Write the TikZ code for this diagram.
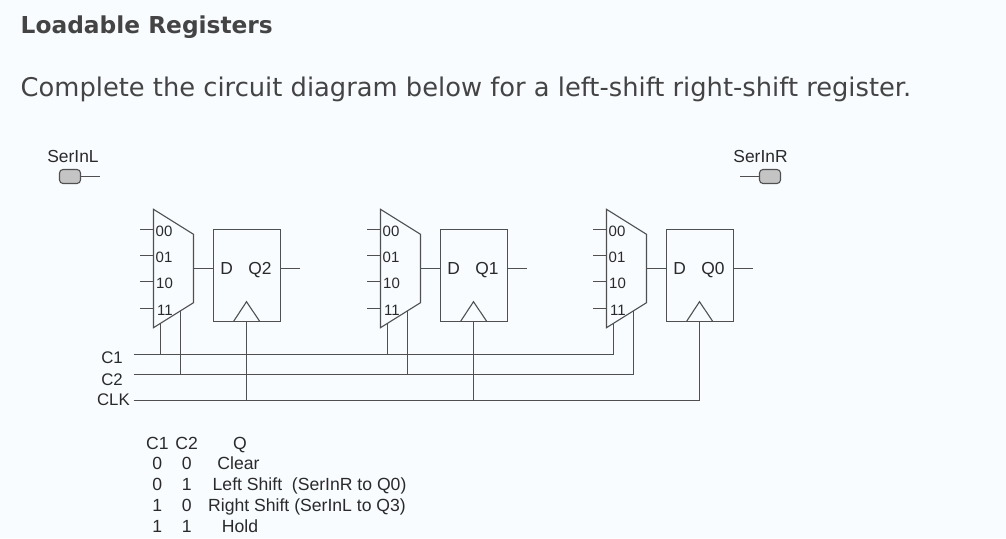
\documentclass[tikz,border=0pt]{standalone}
\usepackage{fontspec}
\setmainfont{Liberation Sans}
\newfontfamily\headfont{DejaVu Sans}
\definecolor{pagebg}{HTML}{F8FCFF}
\definecolor{headink}{HTML}{444444}
\definecolor{wire}{HTML}{505050}
\definecolor{pinfill}{HTML}{C4C4C4}
\definecolor{labelink}{HTML}{2A2A2A}
\tikzset{
  wireline/.style={draw=wire,line width=1.1pt},
  blockbox/.style={draw=wire,line width=1.1pt,rectangle,minimum width=67pt,minimum height=92pt,inner sep=0pt,outer sep=0pt},
  pinbox/.style={draw=wire,fill=pinfill,line width=1.1pt,rectangle,rounded corners=3.5pt,minimum width=21pt,minimum height=14pt,inner sep=0pt,outer sep=0pt},
  lbl/.style={font=\fontsize{17.4}{20}\selectfont,text=labelink,inner sep=0pt,anchor=base},
  ctl/.style={font=\fontsize{16.8}{20}\selectfont,text=labelink,inner sep=0pt,anchor=base east},
  muxlbl/.style={font=\fontsize{15}{18}\selectfont,text=labelink,inner sep=0pt,anchor=base west},
  tbl/.style={font=\fontsize{17.6}{20}\selectfont,text=labelink,inner sep=0pt,anchor=base},
  tbll/.style={tbl,anchor=base west},
}
\begin{document}
\begin{tikzpicture}[x=1pt,y=-1pt]
\useasboundingbox (0,0) rectangle (1006,538);
\fill[pagebg] (0,0) rectangle (1006,538);
\node[font=\headfont\bfseries\fontsize{23.3}{30}\selectfont,text=headink,inner sep=0pt,anchor=base west] (title) at (20.5,33.5) {Loadable Registers};
\node[font=\headfont\fontsize{25.75}{30}\selectfont,text=headink,inner sep=0pt,anchor=base west] (intro) at (20.5,96) {Complete the circuit diagram below for a left-shift right-shift register.};
% serial inputs
\node[lbl] (serl) at (73,162) {SerInL};
\node[lbl] (serr) at (760.5,162) {SerInR};
\node[pinbox] (pinl) at (70,176.5) {};
\node[pinbox] (pinr) at (770,176.5) {};
\coordinate (pinlend) at (100,176.5);
\coordinate (pinrend) at (740,176.5);
\draw[wireline] (pinl.east) -- (pinlend);
\draw[wireline] (pinr.west) -- (pinrend);
% control labels and bus ends
\node[ctl] (c1) at (123,363) {C1};
\node[ctl] (c2) at (123,385) {C2};
\node[ctl] (clk) at (130,405) {CLK};
\coordinate (c1s) at (133.5,354.5);
\coordinate (c2s) at (133.5,374.5);
\coordinate (clks) at (133.5,400.5);
% register stages
\foreach \dx/\nm/\qt in {0/a/Q2,227/b/Q1,453/c/Q0}{
  \begin{scope}[xshift=\dx pt]
    \coordinate (\nm tl) at (153.5,209.3);
    \coordinate (\nm tr) at (193.5,234.3);
    \coordinate (\nm br) at (193.5,302.7);
    \coordinate (\nm bl) at (153.5,327.7);
    \coordinate (\nm out) at (193.5,268.5);
    \draw[wireline] (\nm tl) -- (\nm tr) -- (\nm br) -- (\nm bl) -- cycle;
    \foreach \y/\t/\lx in {229.5/00/155.5,255.5/01/155.5,281.5/10/156,308.5/11/157}{
      \coordinate (\nm s\t) at (140,\y);
      \coordinate (\nm e\t) at (153.5,\y);
      \draw[wireline] (\nm s\t) -- (\nm e\t);
      \node[muxlbl] (\nm l\t) at (\lx,\y+6.7) {\t};
    }
    \node[blockbox] (\nm ff) at (247,275.5) {};
    \draw[wireline] (\nm out) -- (\nm ff.west |- \nm out);
    \node[lbl] (\nm d) at (226.7,274.5) {D};
    \node[lbl] (\nm q) at (260,274.5) {\qt};
    \coordinate (\nm qe) at (300,268.5);
    \draw[wireline] (\nm ff.east |- \nm qe) -- (\nm qe);
    \coordinate (\nm ck1) at (233.5,321.5);
    \coordinate (\nm ck2) at (246.5,301.7);
    \coordinate (\nm ck3) at (259.8,321.5);
    \draw[wireline] (\nm ck1) -- (\nm ck2) -- (\nm ck3);
    \coordinate (\nm c1top) at (160.5,323.6);
    \coordinate (\nm c2top) at (180.5,311);
    \coordinate (\nm c1j) at (160.5,354.5);
    \coordinate (\nm c2j) at (180.5,374.5);
    \coordinate (\nm clkt) at (246.5,321.5);
    \coordinate (\nm clkj) at (246.5,400.5);
    \draw[wireline] (\nm c1top) -- (\nm c1j);
    \draw[wireline] (\nm c2top) -- (\nm c2j);
    \draw[wireline] (\nm clkt) -- (\nm clkj);
  \end{scope}
}
\draw[wireline] (c1s) -- (cc1j);
\draw[wireline] (c2s) -- (cc2j);
\draw[wireline] (clks) -- (cclkj);
% table
\node[tbl] (h1) at (157.3,449) {C1};
\node[tbl] (h2) at (186.7,449) {C2};
\node[tbl] (h3) at (240,449) {Q};
\node[tbl] (r11) at (157.3,469.5) {0};
\node[tbl] (r12) at (186.7,469.5) {0};
\node[tbl] (r13) at (238.5,469.5) {Clear};
\node[tbl] (r21) at (157.3,490.5) {0};
\node[tbl] (r22) at (186.7,490.5) {1};
\node[tbll] (r23) at (212.5,490.5) {Left Shift\ \ (SerInR to Q0)};
\node[tbl] (r31) at (157.3,511.5) {1};
\node[tbl] (r32) at (186.7,511.5) {0};
\node[tbll] (r33) at (208,511.5) {Right Shift (SerInL to Q3)};
\node[tbl] (r41) at (157.3,532) {1};
\node[tbl] (r42) at (186.7,532) {1};
\node[tbl] (r43) at (240,532) {Hold};
\end{tikzpicture}
\end{document}
